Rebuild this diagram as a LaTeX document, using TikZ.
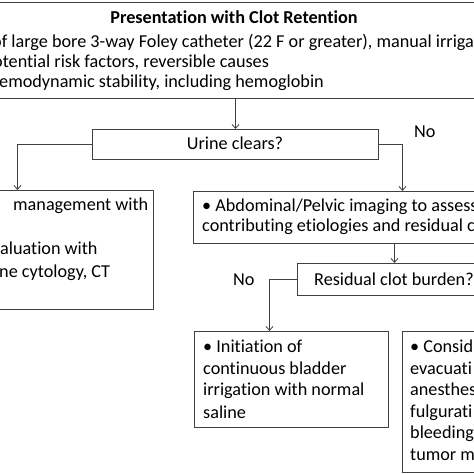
\documentclass[tikz,border=0pt]{standalone}
\usepackage{fontspec}
\setmainfont{Carlito}[RawFeature={-liga}]
\usetikzlibrary{arrows.meta}
\begin{document}
\begin{tikzpicture}[x=1pt,y=-1pt,
  box/.style={draw=black!75,line width=1pt,rectangle,inner sep=0pt,anchor=north west},
  arr/.style={draw=black!75,line width=0.8pt,-{Straight Barb[length=4pt,width=7pt]}},
  txt/.style={anchor=base west,inner sep=0pt,font=\fontsize{18.2}{21}\selectfont},
  ctxt/.style={anchor=base,inner sep=0pt,font=\fontsize{18.2}{21}\selectfont}]
\useasboundingbox (0,0) rectangle (474,474);
\fill[white] (0,0) rectangle (474,474);
\clip (0,0) rectangle (474,474);
% boxes
\node[box,minimum width=900pt,minimum height=96pt] (top) at (-213,2) {};
\node[box,minimum width=286pt,minimum height=30pt] (urine) at (92,129) {};
\node[box,minimum width=272pt,minimum height=119pt] (left) at (-119,190) {};
\node[box,minimum width=418pt,minimum height=52pt] (abd) at (193,191) {};
\node[box,minimum width=194pt,minimum height=32pt] (resid) at (297,263) {};
\node[box,minimum width=194pt,minimum height=96pt] (init) at (194,331) {};
\node[box,minimum width=200pt,minimum height=141pt] (cons) at (402,331) {};
% texts
\node[ctxt,font=\fontsize{18.2}{21}\selectfont\bfseries] (t0) at (234,23) {Presentation with Clot Retention};
\node[txt] (t1) at (-8,47) {of large bore 3-way Foley catheter (22 F or greater), manual irriga};
\node[txt] (t2) at (-7,67) {otential risk factors, reversible causes};
\node[txt] (t3) at (-1,87) {emodynamic stability, including hemoglobin};
\node[ctxt] (u0) at (235,149) {Urine clears?};
\node[txt] (l1) at (13,210) {management with};
\node[txt] (l2) at (0,254) {aluation with};
\node[txt] (l3) at (-1,277) {ne cytology, CT};
\node[txt] (a1) at (202,211) {• Abdominal/Pelvic imaging to assess};
\node[txt] (a2) at (202,231) {contributing etiologies and residual c};
\node[txt] (r0) at (314,285) {Residual clot burden?};
\node[txt] (no1) at (414,137) {No};
\node[txt] (no2) at (233,285) {No};
\node[txt] (i1) at (203,352) {• Initiation of};
\node[txt] (i2) at (203,374) {continuous bladder};
\node[txt] (i3) at (203,395) {irrigation with normal};
\node[txt] (i4) at (203,418) {saline};
\node[txt] (c1) at (410,352) {• Consid};
\node[txt] (c2) at (410,374) {evacuati};
\node[txt] (c3) at (410,395) {anesthes};
\node[txt] (c4) at (410,417) {fulgurati};
\node[txt] (c5) at (410,438) {bleeding};
\node[txt] (c6) at (410,460) {tumor m};
% connectors
\draw[arr] (top.south -| urine.north) -- (urine.north);
\draw[arr] (urine.west) -| (left.north);
\draw[arr] (urine.east) -| (abd.north);
\draw[arr] (abd.south -| resid.north) -- (resid.north);
\draw[arr] (resid.west) -| ([xshift=-22pt]init.north);
\end{tikzpicture}
\end{document}
